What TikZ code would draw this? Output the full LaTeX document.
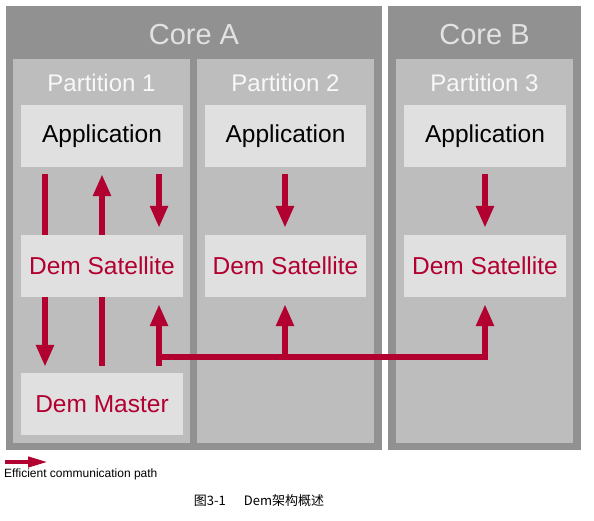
\documentclass[tikz,border=0pt]{standalone}
\usepackage{fontspec}
\setmainfont{Liberation Sans}
\newfontfamily\cjk{Noto Sans CJK SC}
\usetikzlibrary{arrows.meta}
\definecolor{coregray}{RGB}{145,145,145}
\definecolor{partgray}{RGB}{189,189,189}
\definecolor{boxgray}{RGB}{224,224,224}
\definecolor{crimson}{RGB}{178,0,48}
\definecolor{coretext}{RGB}{226,226,226}
\definecolor{parttext}{RGB}{248,248,248}
\tikzset{
  corebox/.style={rectangle, fill=coregray, inner sep=0pt},
  partbox/.style={rectangle, fill=partgray, inner sep=0pt, minimum width=177pt, minimum height=384pt},
  inbox/.style={rectangle, fill=boxgray, inner sep=0pt, minimum height=62pt, font=\fontsize{24.5}{27}\selectfont},
  corelbl/.style={text=coretext, font=\fontsize{29}{32}\selectfont, inner sep=0pt},
  partlbl/.style={text=parttext, font=\fontsize{24}{27}\selectfont, inner sep=0pt},
  bar/.style={draw=crimson, line width=6pt},
  arr/.style={draw=crimson, line width=6pt, -{Triangle[length=22pt,width=17pt]}},
}
\begin{document}
\begin{tikzpicture}[x=1pt,y=-1pt]
\useasboundingbox (0,0) rectangle (594,521);
\fill[white] (0,0) rectangle (594,521);
% cores
\node[corebox, minimum width=376pt, minimum height=444pt] (coreA) at (194,228) {};
\node[corebox, minimum width=193pt, minimum height=444pt] (coreB) at (484.5,228) {};
\node[corelbl] (coreAl) at (194,35) {Core A};
\node[corelbl] (coreBl) at (484.5,35) {Core B};
% partitions
\node[partbox] (p1) at (101.5,251) {};
\node[partbox] (p2) at (285.5,251) {};
\node[partbox] (p3) at (484.5,251) {};
\node[partlbl] (p1l) at (101.5,83) {Partition 1};
\node[partlbl] (p2l) at (285.5,83) {Partition 2};
\node[partlbl] (p3l) at (484.5,83) {Partition 3};
% boxes
\node[inbox, minimum width=162pt] (app1) at (102,136) {Application};
\node[inbox, minimum width=161pt] (app2) at (285.5,136) {Application};
\node[inbox, minimum width=162pt] (app3) at (485,136) {Application};
\node[inbox, minimum width=162pt, text=crimson] (sat1) at (102,266) {Dem Satellite};
\node[inbox, minimum width=161pt, text=crimson] (sat2) at (285.5,266) {Dem Satellite};
\node[inbox, minimum width=162pt, text=crimson] (sat3) at (485,266) {Dem Satellite};
\node[inbox, minimum width=162pt, text=crimson] (mast) at (102,404) {Dem Master};
% x positions
\coordinate (xL) at (45,0);
\coordinate (xM) at (102,0);
\coordinate (xR) at (159,0);
\coordinate (x2) at (285,0);
\coordinate (x3) at (485,0);
\coordinate (jA) at (159,357);
\coordinate (jB) at (485,357);
% partition 1 arrows
\draw[bar, shorten <=7pt] (app1.south -| xL) -- (sat1.north -| xL);
\draw[arr, shorten >=6pt] (sat1.south -| xL) -- (mast.north -| xL);
\draw[bar, shorten <=7pt] (mast.north -| xM) -- (sat1.south -| xM);
\draw[arr, shorten >=7pt] (sat1.north -| xM) -- (app1.south -| xM);
\draw[arr, shorten <=7pt, shorten >=7pt] (app1.south -| xR) -- (sat1.north -| xR);
\draw[arr, shorten <=7pt, shorten >=7pt] (app2.south -| x2) -- (sat2.north -| x2);
\draw[arr, shorten <=7pt, shorten >=7pt] (app3.south -| x3) -- (sat3.north -| x3);
% master to satellites path
\draw[arr, shorten <=7pt, shorten >=7pt] (mast.north -| xR) -- (sat1.south -| xR);
\draw[arr, shorten >=7pt, line join=miter] ([xshift=-3pt]jA) -- (jB) -- (sat3.south -| jB);
\draw[arr, shorten >=7pt] (jA -| x2) -- (sat2.south -| x2);
% legend
\coordinate (lgA) at (5,462);
\coordinate (lgB) at (48,462);
\draw[draw=crimson, line width=4pt, -{Triangle[length=20pt,width=10pt]}] (lgA) -- (lgB);
\node[anchor=west, inner sep=0pt, font=\fontsize{12}{14}\selectfont] (lgt) at (4,474) {Efficient communication path};
% caption
\node[inner sep=0pt, font=\fontsize{13}{15}\selectfont\cjk] (cap) at (259,501) {图3-1\hspace{1.4em}Dem架构概述};
\end{tikzpicture}
\end{document}
